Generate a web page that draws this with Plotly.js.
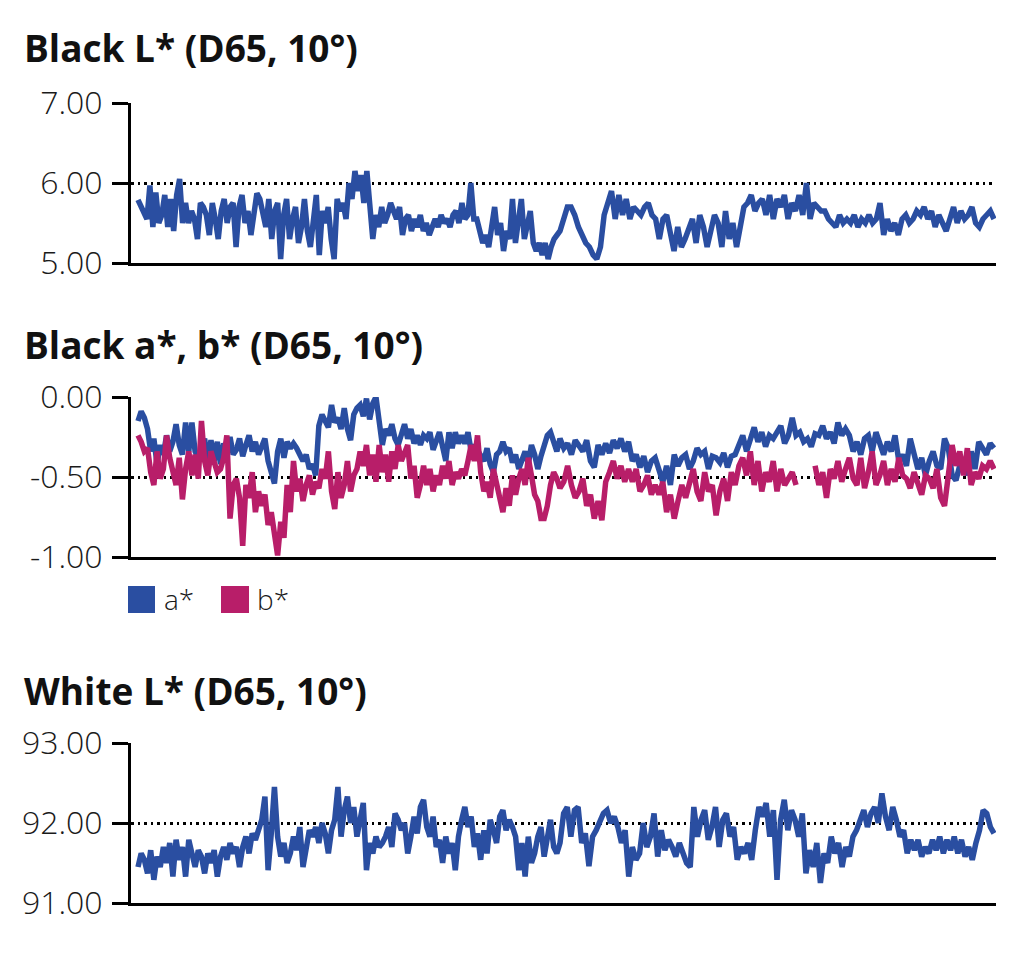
<!DOCTYPE html>
<html>
<head>
<meta charset="utf-8">
<script src="https://cdn.plot.ly/plotly-3.0.1.min.js"></script>
<style>
  html, body { margin: 0; padding: 0; background: #fff; }
  #chart { width: 1024px; height: 965px; }
</style>
</head>
<body>
<div id="chart"></div>
<script>
// readings, left part of the run then right part of the run
var blackL1 = [5.79,5.70,5.62,
  5.55,5.97,5.45,5.88,5.50,
  5.60,5.85,5.45,5.80,
  5.40,5.85,6.05,5.50,
  5.75,5.50,5.65,5.55,5.30,5.75,
  5.70,5.60,5.35,5.75,5.55,5.30,5.65,
  5.80,5.50,5.70,5.75,5.20,5.70,5.85,
  5.50,5.65,5.35,5.60,5.87,5.80,5.60,
  5.45,5.80,5.30,5.65,5.75,5.05,5.60,
  5.80,5.30,5.55,5.70,5.25,5.45,5.80,
  5.40,5.20,5.60,5.85,5.10,5.65,
  5.50,5.70,5.30,5.05,5.80,5.65,5.75,
  5.55,6.00,5.80,6.15,5.90,6.10,5.75,6.15,5.60,
  5.30,5.60,5.45,5.70,5.50,5.60,
  5.75,5.65,5.55,5.70,5.35,5.55,5.60,
  5.40,5.55,5.45,5.60,5.40,5.50,5.35,5.45,5.55,
  5.45,5.60,5.50,5.55,5.45,5.60,
  5.65,5.50,5.75,5.55,5.60,6.00,5.55,
  5.55,5.40,5.25,5.35,5.20,5.45,5.70,
  5.35,5.50,5.15,5.40,5.30,5.80,
  5.25,5.50,5.80,5.30,5.45,5.65,5.25,
  5.15,5.25,5.10,5.25,5.05,5.20,5.30,5.35];
var blackL2 = [5.40,5.55,5.70,5.70,
  5.60,5.45,5.35,5.25,5.20,5.10,5.05,5.20,
  5.60,5.75,5.90,5.55,5.85,5.60,5.80,5.55,
  5.70,5.65,5.60,5.70,5.75,5.60,5.55,5.30,
  5.55,5.60,5.40,5.15,5.45,5.20,5.30,5.45,
  5.55,5.25,5.60,5.45,5.20,5.40,5.60,5.50,
  5.20,5.65,5.30,5.50,5.20,5.45,5.70,
  5.75,5.85,5.65,5.75,5.80,5.60,5.85,
  5.55,5.80,5.70,5.85,5.55,5.75,5.65,
  5.85,5.60,6.00,5.55,5.75,5.70,5.65,
  5.65,5.55,5.50,5.45,5.60,5.50,5.55,
  5.50,5.60,5.45,5.55,5.50,5.60,5.50,
  5.55,5.75,5.35,5.55,5.40,5.50,5.35,
  5.55,5.60,5.50,5.55,5.65,5.60,5.70,
  5.55,5.65,5.45,5.60,5.50,5.40,5.55,
  5.70,5.50,5.65,5.55,5.60,5.70,5.50,
  5.45,5.55,5.60,5.65,5.55];

var aStar1 = [-0.15,-0.09,-0.13,-0.20,
  -0.34,-0.26,-0.42,-0.30,-0.36,-0.24,
  -0.34,-0.28,-0.17,-0.30,-0.36,-0.16,-0.34,
  -0.16,-0.34,-0.38,-0.32,-0.26,-0.42,
  -0.27,-0.40,-0.28,-0.42,-0.29,-0.34,
  -0.25,-0.36,-0.33,-0.26,-0.37,-0.30,
  -0.24,-0.34,-0.28,-0.36,-0.30,-0.26,-0.40,-0.49,-0.54,
  -0.34,-0.26,-0.38,-0.28,-0.32,-0.29,
  -0.32,-0.37,-0.40,-0.36,-0.45,-0.42,-0.49,
  -0.18,-0.11,-0.15,-0.19,-0.05,-0.16,
  -0.13,-0.20,-0.07,-0.20,-0.27,-0.11,-0.07,
  -0.05,-0.12,-0.01,-0.14,-0.04,0.00,-0.15,
  -0.30,-0.20,-0.24,-0.17,-0.26,-0.30,-0.22,
  -0.17,-0.26,-0.20,-0.29,-0.24,-0.30,
  -0.24,-0.26,-0.22,-0.33,-0.28,-0.22,-0.31,-0.40,
  -0.22,-0.32,-0.22,-0.29,-0.24,
  -0.29,-0.22,-0.34,-0.30,-0.33,-0.36,
  -0.40,-0.32,-0.42,-0.47,-0.36,-0.34,
  -0.28,-0.34,-0.32,-0.41,-0.36,-0.45,
  -0.38,-0.34,-0.42,-0.30,-0.36,-0.45,-0.37,
  -0.30,-0.24,-0.22,-0.28,-0.34];
var aStar2 = [-0.26,-0.32,-0.29,-0.36,-0.27,-0.31,
  -0.34,-0.27,-0.40,-0.44,-0.30,-0.36,
  -0.29,-0.35,-0.27,-0.32,-0.26,-0.34,-0.28,
  -0.40,-0.36,-0.44,-0.37,-0.47,-0.40,-0.38,
  -0.45,-0.53,-0.43,-0.55,-0.36,-0.43,-0.38,-0.36,
  -0.45,-0.40,-0.32,-0.36,-0.34,-0.45,-0.37,
  -0.38,-0.41,-0.35,-0.44,-0.37,-0.36,-0.30,
  -0.24,-0.34,-0.26,-0.19,-0.28,-0.22,-0.31,
  -0.24,-0.26,-0.22,-0.18,-0.29,-0.24,-0.13,
  -0.24,-0.22,-0.28,-0.26,-0.31,-0.23,-0.24,
  -0.18,-0.26,-0.22,-0.29,-0.16,-0.24,-0.20,
  -0.24,-0.34,-0.28,-0.36,-0.26,
  -0.24,-0.34,-0.22,-0.30,-0.36,-0.28,
  -0.34,-0.24,-0.40,-0.36,-0.43,-0.26,-0.34,
  -0.45,-0.38,-0.49,-0.40,-0.34,-0.43,
  -0.45,-0.26,-0.32,-0.49,-0.52,-0.43,
  -0.40,-0.49,-0.34,-0.45,-0.28,-0.32,-0.36,-0.29,-0.32];

var bStar1 = [-0.24,-0.28,-0.34,-0.32,
  -0.47,-0.55,-0.34,-0.51,-0.45,-0.24,
  -0.38,-0.47,-0.55,-0.38,-0.64,-0.45,-0.34,
  -0.49,-0.36,-0.51,-0.15,-0.40,-0.49,
  -0.34,-0.40,-0.47,-0.45,-0.38,-0.24,
  -0.76,-0.55,-0.51,-0.63,-0.93,-0.55,
  -0.63,-0.47,-0.72,-0.59,-0.68,-0.61,-0.80,-0.72,-0.86,
  -0.99,-0.78,-0.88,-0.55,-0.72,-0.40,
  -0.59,-0.51,-0.65,-0.55,-0.49,-0.61,-0.53,
  -0.57,-0.45,-0.51,-0.34,-0.59,-0.70,
  -0.47,-0.63,-0.55,-0.40,-0.59,-0.49,-0.45,
  -0.34,-0.43,-0.30,-0.49,-0.36,-0.53,-0.30,
  -0.47,-0.36,-0.53,-0.34,-0.45,-0.30,-0.40,
  -0.34,-0.30,-0.51,-0.43,-0.63,-0.55,
  -0.43,-0.55,-0.45,-0.59,-0.49,-0.55,-0.43,-0.51,
  -0.40,-0.55,-0.47,-0.51,-0.45,
  -0.49,-0.40,-0.30,-0.40,-0.24,-0.47,
  -0.59,-0.53,-0.63,-0.45,-0.55,-0.61,
  -0.72,-0.57,-0.68,-0.49,-0.61,-0.51,
  -0.45,-0.55,-0.38,-0.49,-0.61,-0.65,-0.76,
  -0.76,-0.68,-0.55,-0.47,-0.51];
var bStar2 = [-0.57,-0.53,-0.43,-0.55,-0.63,-0.59,
  -0.51,-0.68,-0.61,-0.76,-0.65,-0.77,
  -0.53,-0.47,-0.40,-0.51,-0.43,-0.53,-0.45,
  -0.53,-0.45,-0.59,-0.55,-0.49,-0.61,-0.55,
  -0.61,-0.53,-0.72,-0.61,-0.76,-0.65,-0.55,-0.63,
  -0.55,-0.45,-0.59,-0.65,-0.47,-0.59,-0.55,
  -0.74,-0.59,-0.51,-0.65,-0.47,-0.55,-0.43,
  -0.38,-0.49,-0.34,-0.55,-0.40,-0.59,-0.47,
  -0.53,-0.40,-0.59,-0.45,-0.55,-0.51,-0.47,
  -0.55,null,null,null,null,-0.43,-0.55,
  -0.47,-0.63,-0.45,-0.51,-0.40,-0.53,-0.45,
  -0.38,-0.51,-0.55,-0.38,-0.57,
  -0.47,-0.34,-0.55,-0.49,-0.40,-0.55,
  -0.45,-0.53,-0.38,-0.49,-0.51,-0.57,-0.47,
  -0.53,-0.61,-0.49,-0.51,-0.57,-0.45,
  -0.63,-0.68,-0.49,-0.30,-0.43,-0.34,
  -0.49,-0.32,-0.55,-0.47,-0.51,-0.43,-0.45,-0.40,-0.45];

var whiteL1 = [91.45,91.62,91.54,91.37,91.66,91.29,
  91.58,91.45,91.70,91.50,91.75,91.33,91.79,
  91.54,91.70,91.33,91.79,91.62,91.45,91.66,
  91.58,91.37,91.62,91.50,91.66,91.33,91.58,
  91.70,91.54,91.75,91.62,91.70,91.45,
  91.70,91.83,91.62,91.87,91.79,91.91,92.04,
  92.33,91.41,91.87,92.45,91.83,91.58,
  91.75,91.50,91.62,91.83,91.66,91.95,91.45,
  91.70,91.91,91.83,91.95,91.75,92.00,
  91.87,91.62,91.91,92.04,92.45,91.83,
  92.16,92.33,92.00,92.20,91.83,92.08,92.25,
  91.41,91.75,91.62,91.83,91.70,91.75,
  91.83,91.95,91.70,92.12,92.04,91.91,
  92.00,91.62,91.83,92.08,91.87,92.20,
  92.29,91.95,91.83,92.08,91.70,91.79,
  91.50,91.83,91.62,91.75,91.41,91.83,
  92.04,92.20,91.95,92.08,91.70,91.87,
  91.54,91.91,91.62,92.04,91.91,91.75,
  92.08,92.16,91.91,92.04,91.95,91.83,
  91.41,91.75,91.33,91.83,91.50,91.62,
  91.83,91.95,91.58,91.87,92.04,91.70,91.62];
var whiteL2 = [91.75,92.12,92.20,91.83,92.16,92.20,
  91.75,91.87,91.46,91.83,91.91,92.04,
  92.12,92.16,92.00,92.08,91.95,
  91.75,91.91,91.33,91.70,91.54,91.62,
  92.00,91.70,91.83,92.12,91.58,91.91,
  91.66,91.79,91.70,91.58,91.75,91.62,91.50,91.45,
  92.20,91.83,92.04,92.16,91.79,91.95,
  92.20,91.70,92.04,92.12,91.83,91.95,
  91.54,91.70,91.62,91.75,91.54,91.91,
  92.20,92.08,92.25,91.83,92.16,91.29,92.04,
  92.29,91.91,92.16,92.04,91.83,92.12,
  91.37,91.66,91.45,91.75,91.25,91.62,
  91.50,91.83,91.62,91.75,91.45,91.70,
  91.58,91.83,91.91,92.04,92.16,91.95,
  92.12,92.20,92.00,92.37,92.08,91.91,
  92.20,92.04,91.83,91.91,91.62,91.79,
  91.66,91.79,91.58,91.70,91.62,91.79,
  91.66,91.83,91.62,91.79,91.66,91.83,
  91.62,91.79,91.58,91.70,91.54,91.75,
  91.91,92.16,92.12,91.95,91.87];

var tickL = [5, 6, 7];
var tickLText = ['5.00', '6.00', '7.00'];
var tickAB = [-1, -0.5, 0];
var tickABText = ['-1.00', '-0.50', '0.00'];
var tickW = [91, 92, 93];
var tickWText = ['91.00', '92.00', '93.00'];
var seriesNames = ['a*', 'b*'];
var titles = ['Black L* (D65, 10°)', 'Black a*, b* (D65, 10°)', 'White L* (D65, 10°)'];

var BLUE = '#2a4ea1';
var PINK = '#b81e69';
var SPLIT = 0.493; // share of the run covered by the left-part readings

// evenly spaced run position for each reading
function runPos(left, right) {
  var xs = [];
  for (var i = 0; i < left.length; i++) xs.push(SPLIT * i / left.length);
  for (var j = 0; j < right.length; j++) xs.push(SPLIT + (1 - SPLIT) * j / (right.length - 1));
  return xs;
}

function line(left, right, color, xa, ya) {
  return {
    type: 'scatter', mode: 'lines',
    x: runPos(left, right), y: left.concat(right),
    xaxis: xa, yaxis: ya,
    line: {color: color, width: 5.5},
    connectgaps: false,
    showlegend: false, hoverinfo: 'skip'
  };
}

var data = [
  line(blackL1, blackL2, BLUE, 'x', 'y'),
  line(aStar1, aStar2, BLUE, 'x2', 'y2'),
  line(bStar1, bStar2, PINK, 'x2', 'y2'),
  line(whiteL1, whiteL2, BLUE, 'x3', 'y3')
];

var W = 1024, H = 965;
var tickFont = {family: 'Open Sans, sans-serif', size: 32, color: '#1a1a1a', weight: 300};

function xAxis(anchor) {
  return {
    domain: [131 / W, 996 / W], range: [-7 / 856, 1 + 2 / 856],
    anchor: anchor,
    showline: true, linecolor: '#000', linewidth: 3,
    showgrid: false, zeroline: false, showticklabels: false, ticks: ''
  };
}
function yAxis(anchor, top, bottom, ticks, labels) {
  return {
    domain: [1 - bottom / H, 1 - top / H],
    range: [ticks[0], ticks[ticks.length - 1]],
    anchor: anchor,
    tickvals: ticks, ticktext: labels,
    tickfont: tickFont,
    ticks: 'outside', ticklen: 16, tickwidth: 3, tickcolor: '#000',
    ticklabelstandoff: 3,
    showline: true, linecolor: '#000', linewidth: 3,
    showgrid: true, gridcolor: '#000', gridwidth: 3, griddash: '2.5px,4px',
    zeroline: false
  };
}

var titleFont = {family: 'Open Sans, sans-serif', size: 37, color: '#111', weight: 700};
var annotations = [48, 345, 690].map(function (yc, i) {
  return {
    text: titles[i], xref: 'paper', yref: 'paper',
    x: 22 / W, y: 1 - yc / H, xanchor: 'left', yanchor: 'middle',
    showarrow: false, font: titleFont
  };
});
// legend for the a*, b* panel
var legendFont = {family: 'Open Sans, sans-serif', size: 28, color: '#1a1a1a', weight: 300};
annotations.push({text: seriesNames[0], xref: 'paper', yref: 'paper', x: 162 / W, y: 1 - 599 / H,
  xanchor: 'left', yanchor: 'middle', showarrow: false, font: legendFont});
annotations.push({text: seriesNames[1], xref: 'paper', yref: 'paper', x: 255 / W, y: 1 - 599 / H,
  xanchor: 'left', yanchor: 'middle', showarrow: false, font: legendFont});

var shapes = [
  {type: 'rect', xref: 'paper', yref: 'paper', x0: 128 / W, x1: 155 / W, y0: 1 - 613 / H, y1: 1 - 586 / H,
    fillcolor: BLUE, line: {width: 0}},
  {type: 'rect', xref: 'paper', yref: 'paper', x0: 221 / W, x1: 249 / W, y0: 1 - 613 / H, y1: 1 - 586 / H,
    fillcolor: PINK, line: {width: 0}}
];

var layout = {
  width: W, height: H,
  margin: {l: 0, r: 0, t: 0, b: 0},
  paper_bgcolor: '#fff', plot_bgcolor: '#fff',
  showlegend: false,
  xaxis: xAxis('y'),
  yaxis: yAxis('x', 103, 263, tickL, tickLText),
  xaxis2: xAxis('y2'),
  yaxis2: yAxis('x2', 397, 557, tickAB, tickABText),
  xaxis3: xAxis('y3'),
  yaxis3: yAxis('x3', 743, 903, tickW, tickWText),
  annotations: annotations,
  shapes: shapes
};

Plotly.newPlot('chart', data, layout, {staticPlot: true});
</script>
</body>
</html>
